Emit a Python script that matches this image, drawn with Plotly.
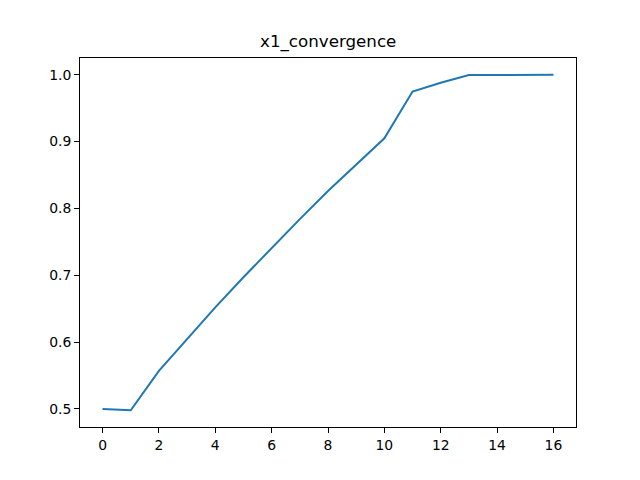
import plotly.graph_objects as go

iterations = list(range(17))
x1_values = [0.500, 0.498, 0.557, 0.604, 0.652, 0.697, 0.741, 0.784, 0.826,
             0.866, 0.905, 0.975, 0.988, 0.9995, 1.0, 1.0, 1.0]
title_text = "x1_convergence"
x_ticks = [0, 2, 4, 6, 8, 10, 12, 14, 16]
y_ticks = [0.5, 0.6, 0.7, 0.8, 0.9, 1.0]

fig = go.Figure()
fig.add_trace(go.Scatter(x=iterations, y=x1_values, mode="lines",
                         line=dict(color="#1f77b4", width=2)))

axis_common = dict(showgrid=False, zeroline=False, showline=True, linecolor="black",
                   linewidth=1, mirror=True, ticks="outside", ticklen=5, tickwidth=1,
                   tickcolor="black", tickfont=dict(family="DejaVu Sans", size=13.9, color="black"))

fig.update_layout(
    width=640, height=480,
    margin=dict(l=80, r=64, t=58, b=53),
    paper_bgcolor="white", plot_bgcolor="white",
    showlegend=False,
    xaxis=dict(range=[-0.8, 16.8], tickvals=x_ticks, ticktext=[str(v) for v in x_ticks], **axis_common),
    yaxis=dict(range=[0.4729, 1.0251], tickvals=y_ticks, ticktext=[f"{v:.1f}" for v in y_ticks], **axis_common),
    annotations=[dict(text=title_text, xref="paper", yref="paper", x=0.5, y=1,
                      xanchor="center", yanchor="bottom", yshift=4, showarrow=False,
                      font=dict(family="DejaVu Sans", size=16.7, color="black"))],
)

fig.write_html("out.html")
